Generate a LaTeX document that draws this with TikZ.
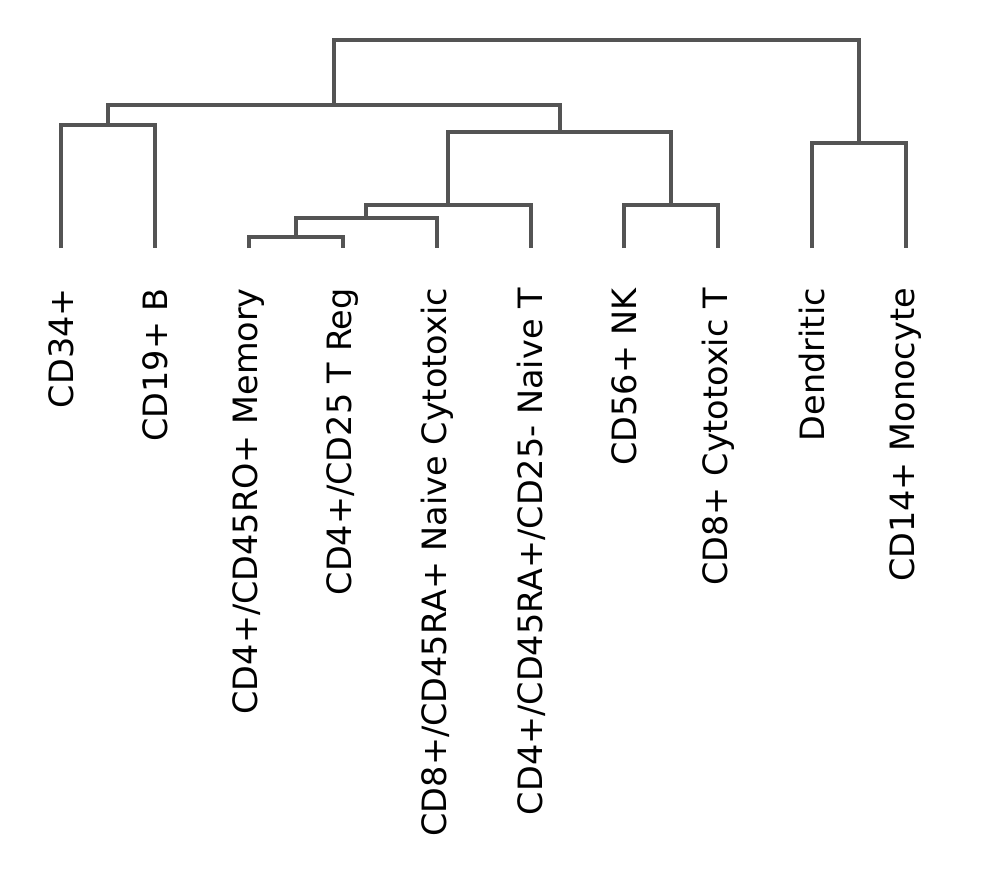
\documentclass[tikz,border=0pt]{standalone}
\usepackage{fontspec}
\setmainfont{DejaVu Sans}
\begin{document}
\begin{tikzpicture}[x=1pt,y=-1pt,
  link/.style={draw=black!67,line width=4pt},
  lab/.style={rotate=90,anchor=east,font=\fontsize{33.5}{38}\selectfont,inner sep=0pt}]
\useasboundingbox (0,0) rectangle (986,884);
\foreach \n/\x/\t in {a/61/{CD34+},b/155/{CD19+ B},c/249/{CD4+/CD45RO+ Memory},d/343/{CD4+/CD25 T Reg},e/437/{CD8+/CD45RA+ Naive Cytotoxic},f/531/{CD4+/CD45RA+/CD25- Naive T},g/624/{CD56+ NK},h/718/{CD8+ Cytotoxic T},i/812/{Dendritic},j/906/{CD14+ Monocyte}}{
  \coordinate (\n) at (\x,248);
  \node[lab] (L\n) at (\x,288) {\t};
}
\coordinate (ab) at (108,125);
\coordinate (cd) at (296,237);
\coordinate (cde) at (366,218);
\coordinate (cdef) at (448,205);
\coordinate (gh) at (671,205);
\coordinate (cdefgh) at (560,132);
\coordinate (abx) at (334,105);
\coordinate (ij) at (859,143);
\coordinate (root) at (334,40);
\newcommand\joint[3]{\draw[link] (#1) |- (#3) -| (#2);}
\joint{a}{b}{ab}
\joint{c}{d}{cd}
\joint{cd}{e}{cde}
\joint{cde}{f}{cdef}
\joint{g}{h}{gh}
\joint{cdef}{gh}{cdefgh}
\joint{ab}{cdefgh}{abx}
\joint{i}{j}{ij}
\joint{abx}{ij}{root}
\end{tikzpicture}
\end{document}
